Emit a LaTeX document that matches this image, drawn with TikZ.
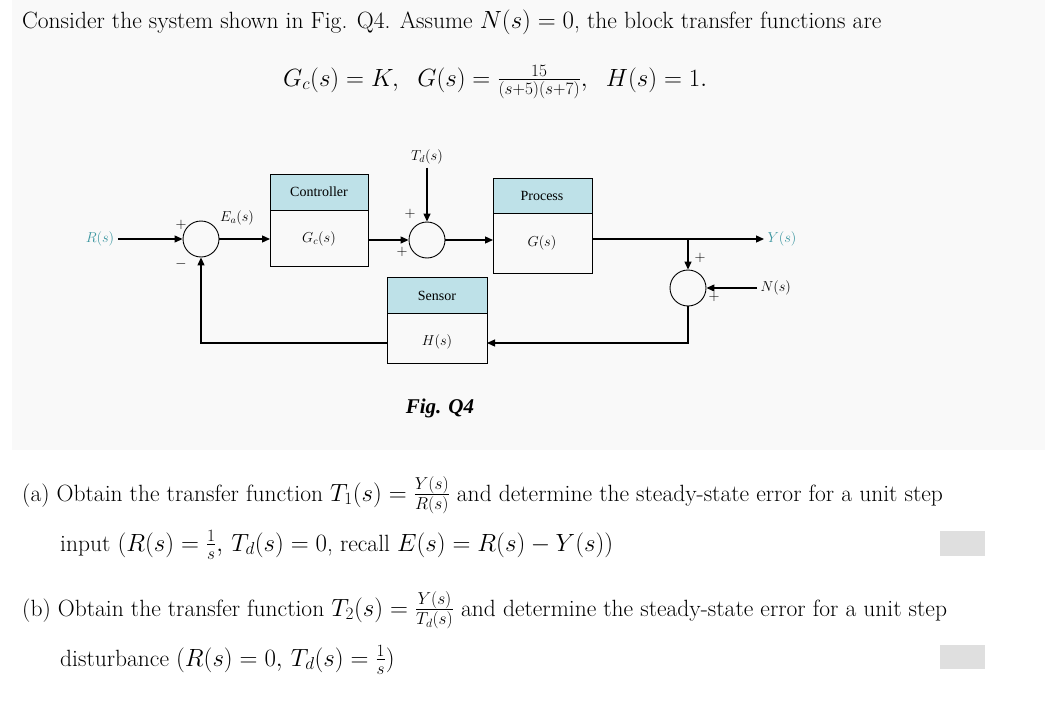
\documentclass[tikz,border=0pt]{standalone}
\usepackage{fontspec}
\usepackage{amsmath}
\newfontfamily\dgm{Liberation Serif}
\usetikzlibrary{arrows.meta}
\definecolor{hdr}{RGB}{190,225,232}
\definecolor{teal2}{RGB}{60,150,160}
\begin{document}
\begin{tikzpicture}[x=1pt,y=-1pt,
  sig/.style={line width=1.3pt,-{Triangle[length=8pt,width=7pt]}},
  ln/.style={line width=1.3pt},
  sum/.style={circle,draw,line width=0.9pt,minimum size=36pt,inner sep=0pt},
  dl/.style={font=\dgm\fontsize{14}{16}\selectfont},
  tx/.style={anchor=west,inner sep=0pt,font=\fontsize{23.5}{28}\selectfont},
  pm/.style={font=\dgm\fontsize{14}{14}\selectfont,inner sep=0pt}]
\useasboundingbox (0,0) rectangle (1062,701);
\fill[gray!5] (12,0) rectangle (1045,450);
% text
\node[tx] (t1) at (22,22) {Consider the system shown in Fig. Q4. Assume $N(s)=0$, the block transfer functions are};
\node[tx] (t2) at (283,82) {$G_c(s)=K,\ \ G(s)=\frac{15}{(s+5)(s+7)},\ \ H(s)=1.$};
% blocks
\draw[fill=hdr,line width=0.9pt] (270,174) rectangle (368,210);
\draw[line width=0.9pt] (270,210) rectangle (368,266);
\node[dl] (ch) at (319,192) {Controller};
\node[dl] (cb) at (319,239) {$G_c(s)$};
\draw[fill=hdr,line width=0.9pt] (493,178) rectangle (592,213);
\draw[line width=0.9pt] (493,213) rectangle (592,273);
\node[dl] (ph) at (542,196) {Process};
\node[dl] (pb) at (542,243) {$G(s)$};
\draw[fill=hdr,line width=0.9pt] (387,277) rectangle (487,313);
\draw[line width=0.9pt] (387,313) rectangle (487,363);
\node[dl] (sh) at (437,296) {Sensor};
\node[dl] (sb) at (437,342) {$H(s)$};
% sums
\node[sum] (s1) at (201,239) {};
\node[sum] (s2) at (427,240) {};
\node[sum] (s3) at (688,288) {};
\node[dl,text=teal2] (R) at (100,239) {$R(s)$};
\node[dl,text=teal2,anchor=west] (Y) at (764,239) {$Y(s)$};
\node[dl,anchor=west] (N) at (757,288) {$N(s)$};
\node[dl] (Td) at (427,157) {$T_d(s)$};
\node[dl] (Ea) at (237,218) {$E_a(s)$};
\coordinate (b) at (688,239);
\draw[sig] (R.east) -- (s1.west);
\draw[sig] (s1.east) -- (270,239);
\draw[sig] (368,240) -- (s2.west);
\draw[sig] (s2.east) -- (493,240);
\draw[ln] (592,239) -- (b);
\draw[sig] (b) -- (Y.west);
\draw[sig] (b) -- (s3.north);
\draw[sig] (N.west) -- (s3.east);
\draw[sig] (Td.south) -- (s2.north);
\draw[sig] (s3.south) |- (487,343);
\draw[sig] (387,343) -| (s1.south);
\node[pm] at (181,225) {$+$};
\node[pm] at (181,264) {$-$};
\node[pm] at (410,214) {$+$};
\node[pm] at (402,252) {$+$};
\node[pm] at (700,258) {$+$};
\node[pm] at (714,297) {$+$};
\node[font=\dgm\bfseries\itshape\fontsize{21}{24}\selectfont] (fig) at (440,408) {Fig. Q4};
\node[tx] (a1) at (22,495) {(a) Obtain the transfer function $T_1(s)=\frac{Y(s)}{R(s)}$ and determine the steady-state error for a unit step};
\node[tx] (a2) at (60,545) {input $(R(s)=\frac{1}{s},\,T_d(s)=0$, recall $E(s)=R(s)-Y(s))$};
\node[tx] (b1) at (22,610) {(b) Obtain the transfer function $T_2(s)=\frac{Y(s)}{T_d(s)}$ and determine the steady-state error for a unit step};
\node[tx] (b2) at (60,660) {disturbance $(R(s)=0,\,T_d(s)=\frac{1}{s})$};
\fill[gray!25] (940,531) rectangle (985,556);
\fill[gray!25] (940,645) rectangle (985,669);
\end{tikzpicture}
\end{document}
